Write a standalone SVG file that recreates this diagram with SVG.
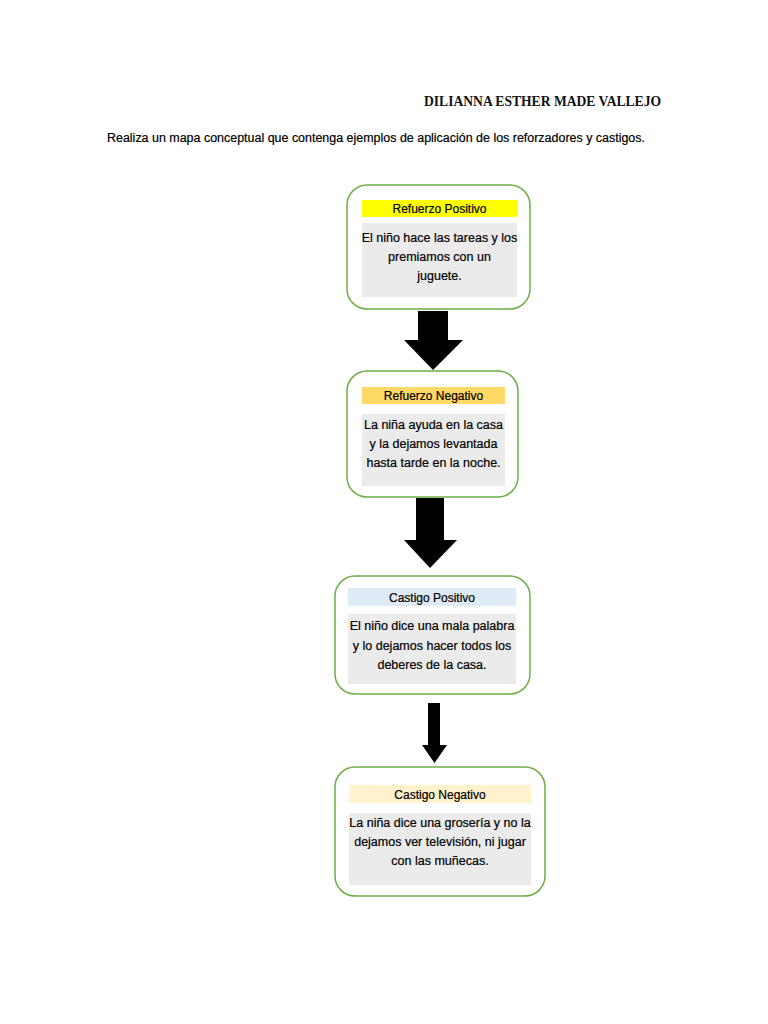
<svg xmlns="http://www.w3.org/2000/svg" width="768" height="1024" viewBox="0 0 768 1024">
<style>
.box{fill:#fff;stroke:#70AD47;stroke-width:1.5}
.gray{fill:#EBEBEB}
.lbl{font-family:"Liberation Sans",Arial,sans-serif;font-size:12px;fill:#000;text-anchor:middle;stroke:#000;stroke-width:0.2}
.txt{font-family:"Liberation Sans",Arial,sans-serif;font-size:12.5px;fill:#000;text-anchor:middle;stroke:#000;stroke-width:0.2}
.arr{fill:#000}
</style>
<rect width="768" height="1024" fill="#fff"/>
<text x="424" y="106" font-family="'Liberation Serif',serif" font-weight="bold" font-size="15.5" fill="#111" textLength="237" lengthAdjust="spacingAndGlyphs">DILIANNA ESTHER MADE VALLEJO</text>
<text x="107" y="142" font-family="'Liberation Sans',Arial,sans-serif" font-size="12" fill="#000" stroke="#000" stroke-width="0.2" textLength="538" lengthAdjust="spacingAndGlyphs">Realiza un mapa conceptual que contenga ejemplos de aplicación de los reforzadores y castigos.</text>

<g id="n1">
<rect class="box" x="347" y="185" width="183" height="124" rx="20"/>
<rect x="362" y="200" width="155" height="17" fill="#FFFF00"/>
<rect class="gray" x="362" y="223" width="155" height="74"/>
<text class="lbl" x="439.5" y="213">Refuerzo Positivo</text>
<text class="txt" x="439.5" y="242">El niño hace las tareas y los</text>
<text class="txt" x="439.5" y="261">premiamos con un</text>
<text class="txt" x="439.5" y="280">juguete.</text>
</g>
<g id="n2">
<rect class="box" x="347" y="371" width="171" height="126" rx="20"/>
<rect x="362" y="387" width="143" height="17" fill="#FFD966"/>
<rect class="gray" x="362" y="414" width="143" height="72"/>
<text class="lbl" x="433.5" y="400">Refuerzo Negativo</text>
<text class="txt" x="433.5" y="429">La niña ayuda en la casa</text>
<text class="txt" x="433.5" y="448">y la dejamos levantada</text>
<text class="txt" x="433.5" y="467">hasta tarde en la noche.</text>
</g>
<g id="n3">
<rect class="box" x="335" y="576" width="195" height="118" rx="20"/>
<rect x="348" y="588" width="168" height="18" fill="#DEEBF7"/>
<rect class="gray" x="348" y="614" width="168" height="70"/>
<text class="lbl" x="432" y="602">Castigo Positivo</text>
<text class="txt" x="432" y="630">El niño dice una mala palabra</text>
<text class="txt" x="432" y="650">y lo dejamos hacer todos los</text>
<text class="txt" x="432" y="669">deberes de la casa.</text>
</g>
<g id="n4">
<rect class="box" x="335" y="767" width="210" height="129" rx="20"/>
<rect x="349" y="785" width="182" height="18" fill="#FFF2CC"/>
<rect class="gray" x="349" y="813" width="182" height="72"/>
<text class="lbl" x="440" y="799">Castigo Negativo</text>
<text class="txt" x="440" y="827">La niña dice una grosería y no la</text>
<text class="txt" x="440" y="846">dejamos ver televisión, ni jugar</text>
<text class="txt" x="440" y="865">con las muñecas.</text>
</g>
<g id="connectors">
<polygon class="arr" points="418,311 448,311 448,340 463,340 433,370 404,340 418,340"/>
<polygon class="arr" points="416,498 444,498 444,540 457,540 430,568 404,540 416,540"/>
<polygon class="arr" points="428,703 440,703 440,745 447,745 434.5,763 422,745 428,745"/>
</g>
</svg>
